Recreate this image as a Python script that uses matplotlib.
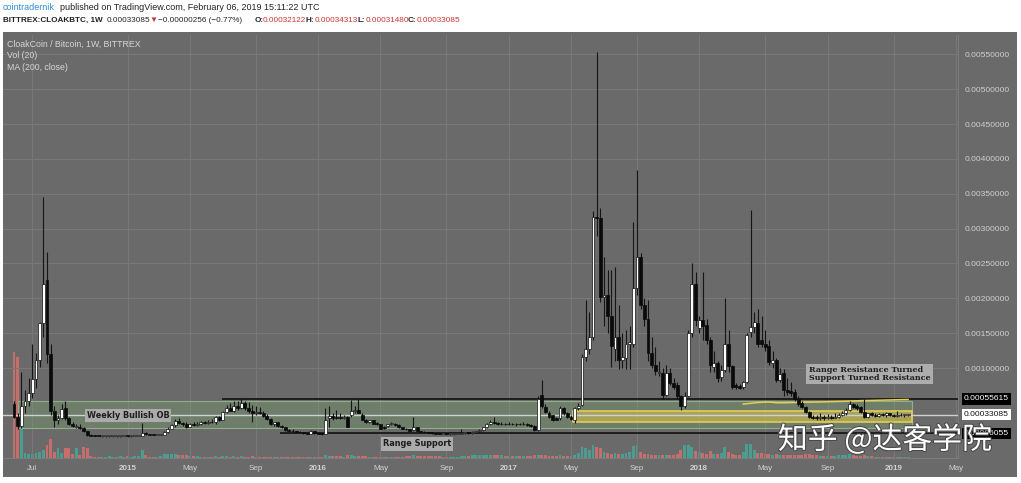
import numpy as np
import pandas as pd
import matplotlib
matplotlib.use('Agg')
import matplotlib.pyplot as plt
from matplotlib.patches import Rectangle
import matplotlib.patheffects as pe

# CLOAK/BTC weekly candles, prices in mBTC (1e-3 BTC), first bar 2014-06-02
opens = [
    .49, .30, .17, .45, .53, .64, .84, 1.12, 1.64, 2.27,
    1.20, .39, .25, .29, .42, .28, .19, .15, .16, .14,
    .09, .04, .03, .025, .02, .02, .02, .02, .02, .02,
    .025, .025, .02, .025, .03, .03, .07, .05, .045, .04,
    .04, .045, .08, .13, .18, .24, .21, .19, .16, .19,
    .18, .20, .22, .21, .23, .22, .30, .26, .37, .43,
    .39, .45, .43, .50, .42, .38, .36, .37, .35, .31,
    .27, .19, .22, .17, .15, .11, .10, .09, .08, .075,
    .07, .06, .09, .07, .06, .05, .29, .31, .30, .30,
    .28, .30, .32, .38, .40, .33, .25, .22, .25, .21,
    .19, .16, .17, .19, .20, .18, .15, .13, .12, .11,
    .15, .09, .08, .075, .07, .065, .06, .055, .055, .05,
    .05, .055, .06, .065, .07, .065, .08, .09, .11, .15,
    .20, .23, .21, .19, .20, .19, .20, .19, .195, .19,
    .20, .18, .17, .11, .61, .44, .35, .32, .28, .28,
    .42, .35, .30, .25, .42, .47, 1.16, 1.28, 1.45, 3.17,
    3.15, 2.02, 2.05, 1.75, 1.28, 1.45, 1.12, 1.14, 1.35, 1.35,
    2.15, 2.60, 1.90, 1.71, 1.21, 1.05, .93, .93, .62, .93,
    .79, .75, .60, .45, .60, 1.50, 2.21, 1.58, 1.69, 1.62,
    1.40, 1.02, 1.07, .87, .97, 1.35, 1.03, .75, .74, .73,
    .80, 1.52, 1.59, 1.64, 1.40, 1.35, 1.31, 1.07, 1.11, .83,
    .93, .68, .67, .66, .56, .50, .44, .37, .30, .29,
    .28, .29, .28, .30, .29, .30, .33, .35, .40, .49,
    .46, .44, .37, .30, .35, .33, .31, .34, .32, .35,
    .32, .31, .33, .32, .32122,
]
highs = [
    .53, .36, .95, .69, .85, 1.34, 1.21, 1.66, 3.46, 2.67,
    1.35, .45, .33, .48, .53, .30, .22, .20, .19, .15,
    .10, .05, .035, .03, .025, .025, .025, .025, .025, .03,
    .03, .03, .03, .035, .035, .21, .08, .06, .05, .05,
    .05, .10, .15, .20, .27, .28, .23, .22, .21, .22,
    .22, .24, .24, .25, .27, .31, .31, .38, .47, .50,
    .53, .53, .55, .52, .51, .47, .45, .44, .38, .34,
    .29, .23, .23, .18, .16, .13, .12, .10, .09, .085,
    .08, .11, .10, .08, .07, .42, .45, .35, .40, .36,
    .33, .31, .54, .46, .55, .36, .27, .26, .26, .22,
    .20, .17, .20, .22, .21, .19, .16, .14, .13, .30,
    .16, .10, .09, .08, .08, .07, .07, .065, .06, .06,
    .06, .065, .13, .075, .08, .09, .10, .12, .16, .21,
    .25, .30, .23, .22, .21, .22, .21, .21, .21, .22,
    .21, .19, .18, .60, .83, .48, .38, .33, .30, .45,
    .44, .37, .32, .44, .50, 1.20, 1.97, 1.80, 3.25, 5.54,
    3.30, 2.60, 2.40, 2.40, 2.45, 1.90, 1.50, 1.55, 1.60, 3.10,
    3.84, 2.65, 2.00, 1.97, 1.45, 1.30, 1.10, 1.00, 1.05, 1.00,
    .85, .80, .62, .65, 1.55, 2.50, 2.38, 1.75, 2.38, 1.70,
    1.45, 1.25, 1.10, 1.05, 2.00, 1.55, 1.05, .78, .77, .82,
    1.50, 3.27, 1.80, 1.85, 1.75, 1.55, 1.40, 1.25, 1.15, 1.00,
    .98, .85, .80, .70, .60, .52, .46, .39, .33, .32,
    .36, .33, .34, .33, .35, .36, .38, .42, .53, .50,
    .49, .45, .55, .36, .37, .35, .36, .36, .37, .36,
    .34, .38, .35, .34, .34313,
]
lows = [
    .28, .13, .14, .36, .45, .57, .71, 1.02, 1.45, 1.07,
    .33, .15, .20, .27, .26, .18, .15, .14, .12, .08,
    .03, .025, .02, .02, .015, .015, .015, .015, .015, .015,
    .02, .015, .015, .02, .02, .02, .04, .04, .035, .035,
    .035, .04, .07, .12, .16, .19, .17, .14, .15, .17,
    .17, .18, .19, .19, .21, .20, .24, .25, .35, .38,
    .37, .40, .41, .40, .36, .22, .33, .34, .30, .26,
    .18, .17, .16, .14, .10, .09, .08, .07, .07, .06,
    .055, .05, .06, .05, .045, .05, .16, .26, .27, .27,
    .27, .15, .30, .36, .35, .25, .21, .21, .19, .18,
    .12, .13, .16, .18, .17, .14, .12, .11, .09, .10,
    .08, .07, .07, .065, .06, .055, .05, .05, .045, .045,
    .045, .05, .05, .055, .06, .06, .07, .08, .10, .14,
    .18, .20, .18, .18, .18, .18, .18, .17, .18, .18,
    .17, .16, .10, .10, .43, .35, .29, .24, .25, .26,
    .33, .28, .25, .21, .40, .45, 1.10, 1.20, 1.40, 2.90,
    1.95, 1.60, 1.50, 1.02, 1.10, .98, 1.00, .98, .98, 1.30,
    2.05, 1.85, 1.60, 1.10, 1.00, .90, .88, .55, .60, .75,
    .70, .55, .40, .43, .58, 1.45, 1.60, 1.50, 1.40, 1.35,
    .95, .95, .80, .82, .95, .95, .70, .70, .70, .70,
    .78, 1.45, 1.50, 1.30, 1.30, 1.25, 1.05, 1.00, .80, .80,
    .60, .62, .60, .53, .46, .42, .35, .28, .27, .26,
    .26, .26, .27, .27, .28, .28, .31, .33, .38, .42,
    .40, .35, .29, .28, .31, .30, .30, .31, .30, .31,
    .30, .30, .31, .30, .3148,
]
closes = [
    .30, .17, .45, .53, .64, .84, 1.12, 1.64, 2.20, 1.20,
    .39, .25, .29, .41, .28, .19, .17, .16, .14, .09,
    .04, .03, .025, .02, .02, .02, .02, .02, .02, .025,
    .025, .02, .025, .03, .03, .07, .05, .045, .04, .04,
    .045, .08, .13, .18, .24, .21, .19, .16, .19, .18,
    .20, .22, .21, .23, .22, .30, .26, .37, .43, .39,
    .45, .43, .50, .42, .38, .36, .37, .35, .31, .27,
    .19, .22, .17, .15, .11, .10, .09, .08, .075, .07,
    .06, .09, .07, .06, .05, .25, .31, .28, .28, .28,
    .30, .16, .38, .40, .36, .26, .22, .25, .20, .19,
    .13, .14, .19, .21, .18, .15, .13, .12, .10, .16,
    .09, .08, .075, .07, .065, .06, .055, .055, .05, .05,
    .055, .06, .065, .07, .065, .08, .09, .11, .15, .20,
    .23, .21, .19, .20, .19, .20, .19, .195, .19, .20,
    .18, .17, .11, .56, .45, .37, .30, .25, .26, .42,
    .35, .30, .27, .42, .46, 1.16, 1.28, 1.45, 3.17, 3.15,
    2.02, 2.05, 1.75, 1.32, 1.45, 1.12, 1.16, 1.35, 1.37, 2.15,
    2.60, 1.90, 1.71, 1.21, 1.05, .96, .95, .62, .93, .79,
    .73, .60, .45, .60, 1.50, 2.20, 1.69, 1.69, 1.60, 1.40,
    1.04, 1.07, .85, .97, 1.34, 1.03, .73, .73, .72, .80,
    1.47, 1.59, 1.66, 1.35, 1.35, 1.30, 1.09, 1.11, .83, .92,
    .68, .66, .64, .56, .49, .44, .37, .30, .29, .28,
    .29, .28, .30, .29, .30, .33, .35, .40, .49, .44,
    .42, .37, .30, .35, .33, .31, .34, .32, .35, .32,
    .31, .33, .32, .33341, .33085,
]
volume = [
    100, 95, 35, 5, 4, 4, 5, 6, 8, 12,
    18, 6, 9, 5, 9, 9, 4, 9, 3, 10,
    9, 2, 1, 1, 1, 1, 2, 1, 1, 2,
    1, 2, 1, 2, 2, 8, 3, 1, 1, 1,
    2, 4, 4, 4, 4, 3, 3, 3, 2, 2,
    2, 1, 1, 1, 1, 2, 1, 2, 2, 1,
    2, 1, 2, 1, 1, 2, 1, 1, 1, 1,
    1, 1, 1, 1, 1, 1, 1, 1, 1, 1,
    1, 1, 1, 1, 1, 3, 2, 2, 2, 2,
    1, 3, 3, 2, 2, 2, 2, 1, 1, 1,
    1, 1, 1, 1, 1, 1, 1, 2, 2, 3,
    2, 2, 2, 2, 2, 2, 2, 1, 1, 1,
    1, 1, 2, 2, 2, 3, 3, 3, 3, 3,
    3, 3, 3, 3, 2, 2, 2, 2, 2, 2,
    2, 2, 3, 3, 3, 3, 2, 2, 2, 3,
    2, 2, 2, 3, 5, 10, 9, 8, 12, 10,
    9, 6, 5, 4, 5, 4, 4, 5, 6, 11,
    12, 6, 4, 4, 3, 3, 3, 3, 3, 3,
    3, 4, 8, 12, 12, 10, 7, 6, 5, 4,
    7, 4, 4, 5, 10, 6, 4, 3, 3, 6,
    13, 13, 8, 5, 5, 4, 4, 3, 4, 3,
    3, 3, 3, 3, 3, 3, 4, 4, 3, 3,
    2, 2, 2, 2, 2, 3, 3, 3, 4, 3,
    2, 2, 3, 2, 2, 1, 1, 1, 1, 1,
    1, 1, 1, 1, 1,
]

# drawn levels / zones (mBTC)
resistance = 0.55615
support = 0.06055
last_price = 0.33085
ob_zone = (0.14, 0.52)
flip_zone = (0.22, 0.38)

tick_months = ['2014-07', '2015-01', '2015-05', '2015-09', '2016-01', '2016-05',
               '2016-09', '2017-01', '2017-05', '2017-09', '2018-01', '2018-05',
               '2018-09', '2019-01', '2019-05']
tick_labels = ['Jul', '2015', 'May', 'Sep', '2016', 'May', 'Sep', '2017', 'May',
               'Sep', '2018', 'May', 'Sep', '2019', 'May']

n = len(closes)
assert len(opens) == len(highs) == len(lows) == len(volume) == n

plt.rcParams['font.family'] = ['Liberation Sans', 'DejaVu Sans']
BG = '#6a6a6a'
GRID = '#787878'

o = np.array(opens) * 1e-3
h = np.array(highs) * 1e-3
l = np.array(lows) * 1e-3
c = np.array(closes) * 1e-3
v = np.array(volume, dtype=float)
x = np.arange(n)
up = c >= o

W, H = 1021, 483
fig = plt.figure(figsize=(W / 100, H / 100), dpi=100, facecolor='white')
fig.patches.append(Rectangle((3 / W, 1 - 477 / H), 1014 / W, 445 / H,
                             transform=fig.transFigure, fc=BG, ec='none', zorder=-10))

pos = [3 / W, (H - 458) / H, 955 / W, 423 / H]
axv = fig.add_axes(pos)
ax = fig.add_axes(pos)

xlim = (-3.0, 257.6)
# volume pane underneath
axv.set_facecolor(BG)
axv.bar(x[up], v[up], width=0.8, color='#3fb3a3', alpha=0.7, lw=0)
axv.bar(x[~up], v[~up], width=0.8, color='#e4706c', alpha=0.75, lw=0)
axv.set_xlim(*xlim)
axv.set_ylim(0, v.max() * 3.99)
axv.axis('off')

ax.set_facecolor('none')
ax.set_xlim(*xlim)
ax.set_ylim(-0.291e-3, 5.778e-3)

# ticks and grid
dates = pd.date_range('2014-06-02', periods=270, freq='W-MON')
ym = dates.strftime('%Y-%m')
tick_pos = [int(np.argmax(ym == m)) for m in tick_months]
ax.set_xticks(tick_pos)
ax.set_xticklabels(tick_labels)
for t in ax.get_xticklabels():
    if t.get_text().isdigit():
        t.set_fontweight('bold')
yt = np.arange(1.0, 5.51, 0.5) * 1e-3
ax.set_yticks(yt)
ax.set_yticklabels(['%.8f' % t for t in yt])
ax.yaxis.tick_right()
ax.tick_params(axis='x', length=0, pad=5, labelsize=5.8, labelcolor='#d2d2d2')
ax.tick_params(axis='y', length=0, pad=5, labelsize=6.1, labelcolor='#cfcfcf')
ax.grid(True, color=GRID, lw=0.8)
ax.set_axisbelow(True)
for s in ['top', 'left']:
    ax.spines[s].set_visible(False)
for s in ['right', 'bottom']:
    ax.spines[s].set_color('#7c7c7c')
    ax.spines[s].set_linewidth(0.8)

# zones
ax.add_patch(Rectangle((1, ob_zone[0] * 1e-3), 244, (ob_zone[1] - ob_zone[0]) * 1e-3,
                       fc=(0.47, 0.65, 0.43, 0.35), ec='#8fae8a', lw=0.8, zorder=1))
ax.add_patch(Rectangle((152.5, flip_zone[0] * 1e-3), 92.5, (flip_zone[1] - flip_zone[0]) * 1e-3,
                       fc=(0.85, 0.76, 0.30, 0.55), ec='#e3cc55', lw=1.2, zorder=1.1))

ax.axhline(last_price * 1e-3, color='#d0d0d0', lw=1.0, zorder=1.5)
ax.hlines(resistance * 1e-3, 56.8, xlim[1], color='#111111', lw=1.2, zorder=2)
ax.hlines(support * 1e-3, 72.6, xlim[1], color='#111111', lw=1.2, zorder=2)

# MA 200
ma = pd.Series(c).rolling(200).mean()
ax.plot(x, ma, color='#e6cf4a', lw=1.1, zorder=2.5)

# candles
ax.vlines(x, l, h, color='#151515', lw=0.8, zorder=3)
body = np.maximum(np.abs(c - o), 0.012e-3)
bottom = np.minimum(o, c)
ax.bar(x[up], body[up], bottom=bottom[up], width=0.8, color='white',
       edgecolor='#111111', lw=0.5, zorder=4)
ax.bar(x[~up], body[~up], bottom=bottom[~up], width=0.8, color='#0a0a0a',
       edgecolor='#0a0a0a', lw=0.5, zorder=4)

# annotations
box = dict(boxstyle='square,pad=0.25', fc='#ababab', ec='none')
ax.text(0.1309, 0.1005, 'Weekly Bullish OB', transform=ax.transAxes, ha='center', va='center',
        fontsize=5.9, fontweight='bold', family='DejaVu Sans', color='#1e1e1e', bbox=box, zorder=6)
ax.text(0.4335, 0.0331, 'Range Support', transform=ax.transAxes, ha='center', va='center',
        fontsize=5.9, fontweight='bold', family='DejaVu Sans', color='#1e1e1e', bbox=box, zorder=6)
ax.text(0.8435, 0.1986, 'Range Resistance Turned\nSupport Turned Resistance', transform=ax.transAxes,
        ha='left', va='center', fontsize=5.8, fontweight='bold', family='DejaVu Serif',
        color='#1e1e1e', linespacing=0.95,
        bbox=dict(boxstyle='square,pad=0.3', fc='#adadad', ec='none'), zorder=6)

# price labels on the price scale
yt_tr = ax.get_yaxis_transform()
for val, fc, tc in [(resistance, '#000000', 'white'), (last_price, '#ffffff', '#111111'),
                    (support, '#000000', 'white')]:
    ax.text(1.006, val * 1e-3, '%.8f' % (val * 1e-3), transform=yt_tr, ha='left', va='center',
            fontsize=6.1, color=tc, clip_on=False, zorder=7,
            bbox=dict(boxstyle='square,pad=0.25', fc=fc, ec='none'))

# legend texts
for txt, yy in [('CloakCoin / Bitcoin, 1W, BITTREX', 44), ('Vol (20)', 56), ('MA (200, close)', 67)]:
    fig.text(7 / W, 1 - yy / H, txt, fontsize=6.3, color='#d6d6d6', va='center', ha='left')

# header
fig.text(3 / W, 1 - 8 / H, 'cointradernik', color='#2d8fd5', fontsize=6.5, va='center')
fig.text(60 / W, 1 - 8 / H, 'published on TradingView.com, February 06, 2019 15:11:22 UTC',
         color='#222222', fontsize=6.5, va='center')
red = '#c8362f'
segs = [('BITTREX:CLOAKBTC, 1W', 3, '#222222', 'bold'), ('0.00033085', 107, '#222222', 'normal'),
        ('\u25bc', 149, red, 'normal'), ('\u22120.00000256 (\u22120.77%)', 158, '#222222', 'normal'),
        ('O:', 255, '#222222', 'bold'), ('0.00032122', 263, red, 'normal'),
        ('H:', 306, '#222222', 'bold'), ('0.00034313', 315, red, 'normal'),
        ('L:', 358, '#222222', 'bold'), ('0.00031480', 366, red, 'normal'),
        ('C:', 408, '#222222', 'bold'), ('0.00033085', 417, red, 'normal')]
for txt, xx, col, wt in segs:
    fig.text(xx / W, 1 - 20 / H, txt, color=col, fontsize=5.9, fontweight=wt, va='center',
             family=['Liberation Sans', 'DejaVu Sans'])

# watermark
fig.text(885 / W, 1 - 440 / H, '知乎 @达客学院', fontsize=21.5, color='white', ha='center', va='center',
         family=['Noto Sans CJK SC', 'DejaVu Sans'], zorder=10,
         path_effects=[pe.withStroke(linewidth=1.5, foreground='#4a4a4a')])

fig.savefig('out.png', dpi=100, facecolor='white')
